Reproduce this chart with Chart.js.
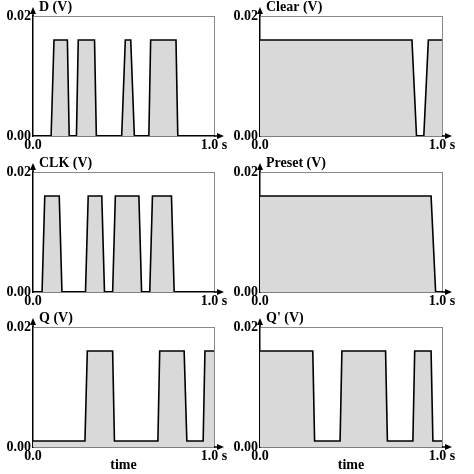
<!DOCTYPE html>
<html><head><meta charset="utf-8">
<script src="https://cdn.jsdelivr.net/npm/chart.js@4/dist/chart.umd.min.js"></script>
<style>body{margin:0;background:#fff;width:474px;height:474px;position:relative;overflow:hidden}
.c{position:absolute}</style></head><body>
<div class="c" style="left:0;top:0;width:237px;height:160px"><canvas id="c1"></canvas></div>
<div class="c" style="left:228px;top:0;width:246px;height:160px"><canvas id="c2"></canvas></div>
<div class="c" style="left:0;top:156px;width:237px;height:160px"><canvas id="c3"></canvas></div>
<div class="c" style="left:228px;top:156px;width:246px;height:160px"><canvas id="c4"></canvas></div>
<div class="c" style="left:0;top:311px;width:237px;height:163px"><canvas id="c5"></canvas></div>
<div class="c" style="left:228px;top:311px;width:246px;height:163px"><canvas id="c6"></canvas></div>
<script>
const xTickLabels = ["0.0", "1.0 s"];
const yTickLabels = ["0.00", "0.02"];
const titles = ["D (V)", "Clear (V)", "CLK (V)", "Preset (V)", "Q (V)", "Q' (V)"];
const dT = [0, 0.10, 0.116, 0.19, 0.20, 0.24, 0.25, 0.34, 0.35, 0.49, 0.51, 0.54, 0.56, 0.64, 0.65, 0.79, 0.80, 1.0];
const dV = [0, 0, 0.016, 0.016, 0, 0, 0.016, 0.016, 0, 0, 0.016, 0.016, 0, 0, 0.016, 0.016, 0, 0];
const clearT = [0, 0.835, 0.86, 0.90, 0.925, 1.0];
const clearV = [0.016, 0.016, 0, 0, 0.016, 0.016];
const clkT = [0, 0.05, 0.065, 0.145, 0.16, 0.29, 0.305, 0.38, 0.395, 0.44, 0.455, 0.585, 0.60, 0.645, 0.66, 0.765, 0.78, 1.0];
const clkV = [0, 0, 0.016, 0.016, 0, 0, 0.016, 0.016, 0, 0, 0.016, 0.016, 0, 0, 0.016, 0.016, 0, 0];
const presetT = [0, 0.94, 0.965, 1.0];
const presetV = [0.016, 0.016, 0, 0];
const qT = [0, 0.287, 0.30, 0.44, 0.45, 0.69, 0.70, 0.835, 0.85, 0.94, 0.95, 1.0];
const qV = [0.001, 0.001, 0.016, 0.016, 0.001, 0.001, 0.016, 0.016, 0.001, 0.001, 0.016, 0.016];
const qbT = [0, 0.29, 0.30, 0.44, 0.45, 0.69, 0.70, 0.84, 0.85, 0.94, 0.95, 1.0];
const qbV = [0.016, 0.016, 0.001, 0.001, 0.016, 0.016, 0.001, 0.001, 0.016, 0.016, 0.001, 0.001];

const FONT = {family: "'Liberation Serif', 'DejaVu Serif', serif", weight: 'bold', size: 14};
function pts(t, v) { return t.map((x, i) => ({x: x, y: v[i]})); }

const deco = {
  id: 'deco',
  afterDraw(chart, args, o) {
    const {ctx, chartArea: a} = chart;
    ctx.save();
    ctx.fillStyle = '#000';
    ctx.beginPath();
    ctx.moveTo(a.left, a.top - 9); ctx.lineTo(a.left - 3, a.top - 2); ctx.lineTo(a.left + 3, a.top - 2); ctx.closePath(); ctx.fill();
    ctx.beginPath(); ctx.moveTo(a.left, a.top); ctx.lineTo(a.left, a.top - 4); ctx.strokeStyle = '#000'; ctx.lineWidth = 1.5; ctx.stroke();
    ctx.beginPath();
    ctx.moveTo(a.right + 10, a.bottom); ctx.lineTo(a.right + 3, a.bottom - 3); ctx.lineTo(a.right + 3, a.bottom + 3); ctx.closePath(); ctx.fill();
    ctx.beginPath(); ctx.moveTo(a.right, a.bottom); ctx.lineTo(a.right + 4, a.bottom); ctx.stroke();
    ctx.font = "bold 14px 'Liberation Serif', serif";
    ctx.textBaseline = 'middle'; ctx.textAlign = 'left';
    ctx.fillText(o.title, a.left + 6, a.top - 9);
    if (o.xt) { ctx.textAlign = 'center'; ctx.fillText('time', (a.left + a.right) / 2, a.bottom + 18); }
    ctx.restore();
  }
};

function make(id, t, v, title, yw, padR, xh, xt) {
  new Chart(document.getElementById(id), {
    type: 'line',
    data: {datasets: [{data: pts(t, v), borderColor: '#000', borderWidth: 1.6, backgroundColor: '#d9d9d9', fill: 'origin', pointRadius: 0, tension: 0}]},
    options: {
      responsive: true, maintainAspectRatio: false, animation: false,
      layout: {padding: {top: 16, right: padR, left: 0, bottom: 0}},
      plugins: {legend: {display: false}, tooltip: {enabled: false}, deco: {title: title, xt: xt}},
      scales: {
        x: {type: 'linear', min: 0, max: 1,
          afterBuildTicks: s => { s.ticks = [{value: 0}, {value: 1}]; },
          afterFit: s => { s.height = xh; },
          ticks: {color: '#000', font: FONT, padding: 1, maxRotation: 0, callback: (val) => val === 0 ? xTickLabels[0] : xTickLabels[1]},
          grid: {color: c => c.tick && c.tick.value === 1 ? '#888' : 'rgba(0,0,0,0)', drawTicks: false, lineWidth: 1},
          border: {color: '#000', width: 1.5}},
        y: {min: 0, max: 0.02,
          afterBuildTicks: s => { s.ticks = [{value: 0}, {value: 0.02}]; },
          afterFit: s => { s.width = yw; },
          ticks: {color: '#000', font: FONT, padding: 2, callback: (val) => val === 0 ? yTickLabels[0] : yTickLabels[1]},
          grid: {color: c => c.tick && c.tick.value === 0.02 ? '#888' : 'rgba(0,0,0,0)', drawTicks: false, lineWidth: 1},
          border: {color: '#000', width: 1.5}}
      }
    },
    plugins: [deco]
  });
}
make('c1', dT, dV, titles[0], 33, 23, 24, false);
make('c2', clearT, clearV, titles[1], 32, 32, 24, false);
make('c3', clkT, clkV, titles[2], 33, 23, 24, false);
make('c4', presetT, presetV, titles[3], 32, 32, 24, false);
make('c5', qT, qV, titles[4], 33, 23, 27, true);
make('c6', qbT, qbV, titles[5], 32, 32, 27, true);
</script></body></html>
